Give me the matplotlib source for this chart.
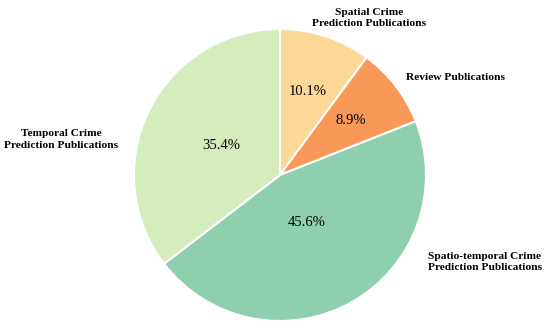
import numpy as np
import matplotlib.pyplot as plt

categories = ['Spatial Crime\nPrediction Publications', 'Review Publications',
              'Spatio-temporal Crime\nPrediction Publications', 'Temporal Crime\nPrediction Publications']
shares = [10.1, 8.9, 45.6, 35.4]
colors = ['#fdd795', '#f99858', '#8ecfb0', '#d5ecbd']

# layout only: where each label / percent sits (pie radius = 1)
label_xy = [(0.613, 1.075), (1.20, 0.671), (1.404, -0.596), (-1.497, 0.243)]
pct_dist = [0.60, 0.61, 0.37, 0.45]

plt.rcParams['font.family'] = ['Liberation Serif', 'DejaVu Serif']

fig = plt.figure(figsize=(5.5, 3.26), dpi=100)
ax = fig.add_axes([0, 0, 1, 1])
wedges, texts, autotexts = ax.pie(shares, colors=colors, startangle=90, counterclock=False,
                                  autopct='%1.1f%%', radius=1,
                                  wedgeprops=dict(edgecolor='white', linewidth=1.5),
                                  textprops=dict(fontsize=10.5))

for w, t, d in zip(wedges, autotexts, pct_dist):
    mid = np.deg2rad((w.theta1 + w.theta2) / 2)
    t.set_position((d * np.cos(mid), d * np.sin(mid)))

for lab, (x, y) in zip(categories, label_xy):
    ax.text(x, y, lab, ha='center', va='center', fontsize=8.2, fontweight='bold',
            multialignment='center', linespacing=1.3)

ax.set_xlim(-280 / 146, 270 / 146)
ax.set_ylim(-151 / 146, 175 / 146)
ax.set_aspect('equal')
ax.axis('off')
plt.savefig('out.png', dpi=100)
plt.close()
